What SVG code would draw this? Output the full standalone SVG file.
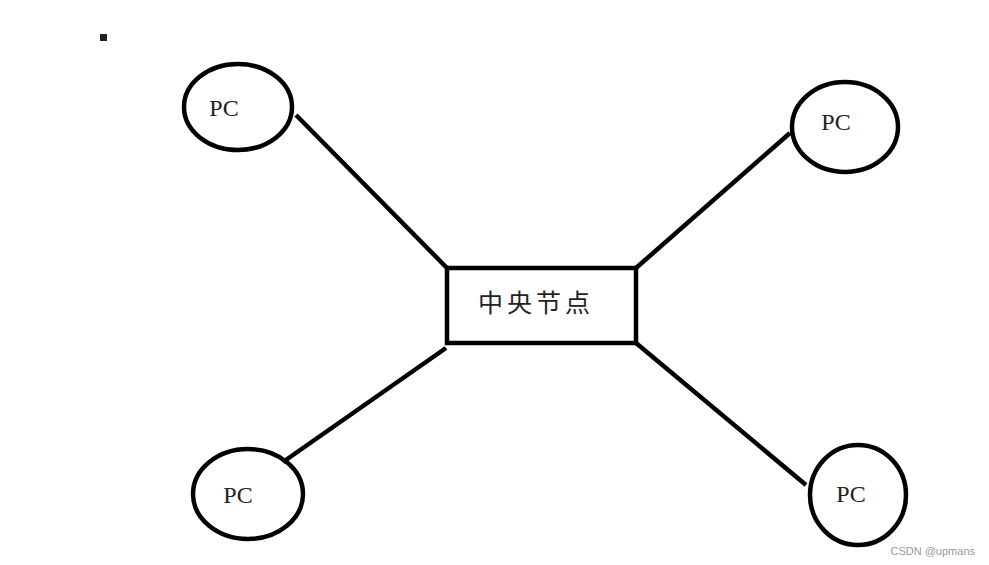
<svg xmlns="http://www.w3.org/2000/svg" width="989" height="565" viewBox="0 0 989 565">
<style>
.s{fill:none;stroke:#000;stroke-width:4.5}
.pc{font-family:"Liberation Serif",serif;font-size:24px;fill:#222}
</style>
<rect width="989" height="565" fill="#fff"/>
<rect x="100" y="34" width="7" height="7" fill="#222"/>
<g id="connectors">
<line class="s" x1="296" y1="115" x2="447" y2="268"/>
<line class="s" x1="636" y1="268" x2="790" y2="133"/>
<line class="s" x1="446" y1="348" x2="283" y2="462"/>
<line class="s" x1="636" y1="343" x2="806" y2="485"/>
</g>
<g id="center"><rect class="s" x="447" y="268" width="189" height="75"/>
<text x="536" y="312" text-anchor="middle" font-family="Noto Sans CJK SC,sans-serif" font-size="25" letter-spacing="4" fill="#222">中央节点</text></g>
<g id="pc1"><ellipse class="s" cx="238" cy="107" rx="54" ry="43"/><text class="pc" x="224" y="116" text-anchor="middle">PC</text></g>
<g id="pc2"><ellipse class="s" cx="845" cy="127" rx="53" ry="45"/><text class="pc" x="836" y="130" text-anchor="middle">PC</text></g>
<g id="pc3"><ellipse class="s" cx="248" cy="494" rx="55" ry="45"/><text class="pc" x="238" y="503" text-anchor="middle">PC</text></g>
<g id="pc4"><ellipse class="s" cx="858" cy="495" rx="48" ry="50"/><text class="pc" x="851" y="502" text-anchor="middle">PC</text></g>
<text x="975" y="555" text-anchor="end" font-family="Liberation Sans,sans-serif" font-size="11" fill="#999">CSDN @upmans</text>
</svg>
